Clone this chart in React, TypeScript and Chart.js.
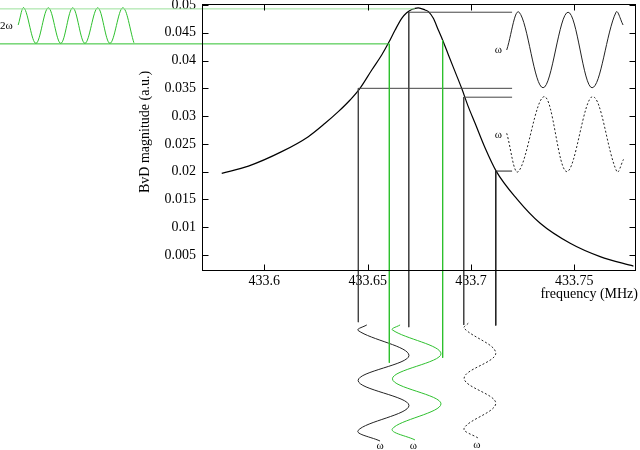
import { useEffect, useRef } from 'react';
import { Chart, registerables } from 'chart.js';

Chart.register(...registerables);

const FONT = '"Liberation Serif", "Times New Roman", serif';

// Axis ranges and ticks
const xTicks = [433.6, 433.65, 433.7, 433.75];
const yTicks = [0.005, 0.01, 0.015, 0.02, 0.025, 0.03, 0.035, 0.04, 0.045, 0.05];
const xMin = 433.56985;
const xMax = 433.77986;
const yMin = 0.00211;
const yMax = 0.05018;

// Resonance curve (frequency MHz, BvD magnitude)
const curveFreq = [
  433.5794, 433.5923, 433.6084, 433.6213, 433.6294, 433.6358, 433.6415, 433.6463,
  433.652, 433.6568, 433.66, 433.6633, 433.6665, 433.6689, 433.6713, 433.6745,
  433.6778, 433.6794, 433.6818, 433.6842, 433.6866, 433.6891, 433.6923, 433.6955,
  433.6987, 433.702, 433.7068, 433.7122, 433.7222, 433.7335, 433.748, 433.7625,
  433.7786,
];
const curveMag = [
  0.0197, 0.021, 0.0236, 0.0263, 0.0287, 0.0308, 0.0329, 0.035,
  0.0383, 0.041, 0.0431, 0.0455, 0.0476, 0.0486, 0.0492, 0.0495,
  0.0491, 0.0488, 0.0476, 0.0455, 0.0434, 0.041, 0.038, 0.035,
  0.0317, 0.0287, 0.0243, 0.0201, 0.0151, 0.0107, 0.0071, 0.0047,
  0.003,
];

// Black guide lines (L-shaped: from right end, along level, down below axis)
const guideBlack1 = [
  { x: 433.7199, y: 0.035 }, { x: 433.6455, y: 0.035 }, { x: 433.6455, y: -0.0071 },
];
const guideBlack2 = [
  { x: 433.7199, y: 0.0487 }, { x: 433.6699, y: 0.0487 }, { x: 433.6699, y: -0.008 },
];
const guideBlack3 = [
  { x: 433.7199, y: 0.0334 }, { x: 433.6965, y: 0.0334 }, { x: 433.6965, y: -0.0076 },
];
const guideBlack4 = [
  { x: 433.7199, y: 0.0201 }, { x: 433.712, y: 0.0201 }, { x: 433.712, y: -0.0077 },
];

// Green guide lines
const guideGreenTop = [{ x: 433.4721, y: 0.0493 }, { x: 433.6729, y: 0.0493 }];
const guideGreenLeft = [
  { x: 433.4721, y: 0.043 }, { x: 433.6605, y: 0.043 }, { x: 433.6605, y: -0.0144 },
];
const guideGreenRight = [{ x: 433.6863, y: 0.0437 }, { x: 433.6863, y: -0.0135 }];

// Waveforms (extrema)
const wave2w = [
  { x: 433.4809, y: 0.0464 }, { x: 433.4837, y: 0.0495 }, { x: 433.4895, y: 0.0431 },
  { x: 433.4955, y: 0.0495 }, { x: 433.5015, y: 0.0431 }, { x: 433.5073, y: 0.0495 },
  { x: 433.5132, y: 0.0431 }, { x: 433.5194, y: 0.0495 }, { x: 433.5253, y: 0.0431 },
  { x: 433.5315, y: 0.0495 }, { x: 433.5369, y: 0.0432 },
];
const waveRightSolid = [
  { x: 433.7173, y: 0.0419 }, { x: 433.7233, y: 0.0487 }, { x: 433.7349, y: 0.0351 },
  { x: 433.747, y: 0.0487 }, { x: 433.7586, y: 0.0351 }, { x: 433.7702, y: 0.0487 },
  { x: 433.7736, y: 0.0464 },
];
const waveRightDotted = [
  { x: 433.7173, y: 0.0269 }, { x: 433.7229, y: 0.02 }, { x: 433.7355, y: 0.0335 },
  { x: 433.7464, y: 0.02 }, { x: 433.7589, y: 0.0335 }, { x: 433.7706, y: 0.02 },
  { x: 433.7738, y: 0.0222 },
];
const waveBottomBlack = [
  { x: 433.6496, y: -0.0076 }, { x: 433.6454, y: -0.0086 }, { x: 433.67, y: -0.0131 },
  { x: 433.6454, y: -0.0176 }, { x: 433.67, y: -0.0221 }, { x: 433.6454, y: -0.0266 },
  { x: 433.656, y: -0.0285 },
];
const waveBottomGreen = [
  { x: 433.6657, y: -0.0076 }, { x: 433.662, y: -0.0085 }, { x: 433.6855, y: -0.0128 },
  { x: 433.662, y: -0.0173 }, { x: 433.6855, y: -0.0218 }, { x: 433.662, y: -0.0263 },
  { x: 433.6729, y: -0.0283 },
];
const waveBottomDotted = [
  { x: 433.6987, y: -0.0073 }, { x: 433.6967, y: -0.0082 }, { x: 433.712, y: -0.0127 },
  { x: 433.6967, y: -0.0172 }, { x: 433.712, y: -0.0217 }, { x: 433.6967, y: -0.0262 },
  { x: 433.7036, y: -0.028 },
];

// Text labels placed in data coordinates
const waveLabels = [
  { text: '2ω', x: 433.4752, y: 0.0462 },
  { text: 'ω', x: 433.7133, y: 0.0419 },
  { text: 'ω', x: 433.7133, y: 0.0266 },
  { text: 'ω', x: 433.656, y: -0.0294 },
  { text: 'ω', x: 433.6721, y: -0.0295 },
  { text: 'ω', x: 433.7028, y: -0.0292 },
];

const GREEN = '#2ec02e';
const LIGHT_GREEN = '#9be09b';

const lineDs = (data: any[], color: string, width = 1, extra: any = {}) => ({
  data,
  showLine: true,
  borderColor: color,
  borderWidth: width,
  pointRadius: 0,
  tension: 0,
  clip: false,
  capBezierPoints: false,
  ...extra,
});

const waveDs = (data: any[], color: string, extra: any = {}) =>
  lineDs(data, color, 1, { tension: 0.36, ...extra });

const decor = {
  id: 'decor',
  afterDraw(chart: any) {
    const { ctx, chartArea: a, scales } = chart;
    const xs = scales.x;
    const ys = scales.y;
    ctx.save();
    ctx.strokeStyle = '#000';
    ctx.lineWidth = 1;
    const L = Math.round(a.left) + 0.5;
    const R = Math.round(a.right) - 0.5;
    const T = Math.round(a.top) + 0.5;
    const B = Math.round(a.bottom) - 0.5;
    ctx.strokeRect(L, T, R - L, B - T);
    ctx.beginPath();
    const tl = 6;
    xTicks.forEach((v) => {
      const px = Math.round(xs.getPixelForValue(v)) + 0.5;
      ctx.moveTo(px, B);
      ctx.lineTo(px, B - tl);
      ctx.moveTo(px, T);
      ctx.lineTo(px, T + tl);
    });
    yTicks.forEach((v) => {
      const py = Math.round(ys.getPixelForValue(v)) + 0.5;
      ctx.moveTo(L, py);
      ctx.lineTo(L + tl, py);
      ctx.moveTo(R, py);
      ctx.lineTo(R - tl, py);
    });
    ctx.stroke();

    ctx.fillStyle = '#000';
    ctx.font = `14px ${FONT}`;
    ctx.textBaseline = 'middle';
    ctx.textAlign = 'right';
    ctx.fillText('frequency (MHz)', 638, 294);

    ctx.save();
    ctx.translate(145, 132);
    ctx.rotate(-Math.PI / 2);
    ctx.textAlign = 'center';
    ctx.fillText('BvD magnitude (a.u.)', 0, 0);
    ctx.restore();

    ctx.font = `11px ${FONT}`;
    ctx.textAlign = 'center';
    waveLabels.forEach((l) => {
      ctx.fillText(l.text, xs.getPixelForValue(l.x), ys.getPixelForValue(l.y));
    });
    ctx.restore();
  },
};

export default function App() {
  const ref = useRef<HTMLCanvasElement>(null);
  useEffect(() => {
    const datasets: any[] = [
      lineDs(guideGreenTop, LIGHT_GREEN),
      lineDs(guideGreenLeft, GREEN),
      lineDs(guideGreenRight, GREEN),
      lineDs(guideBlack1, '#444'),
      lineDs(guideBlack2, '#444'),
      lineDs(guideBlack3, '#444'),
      lineDs(guideBlack4, '#222'),
      waveDs(wave2w, GREEN, { indexAxis: 'y' }),
      waveDs(waveRightSolid, '#222'),
      waveDs(waveRightDotted, '#222', { borderDash: [2, 2] }),
      waveDs(waveBottomBlack, '#222'),
      waveDs(waveBottomGreen, GREEN),
      waveDs(waveBottomDotted, '#222', { borderDash: [2, 2] }),
      lineDs(
        curveFreq.map((f, i) => ({ x: f, y: curveMag[i] })),
        '#000',
        1.2,
        { cubicInterpolationMode: 'monotone' }
      ),
    ];
    const tickFont = { family: FONT, size: 14 };
    const chart = new Chart(ref.current as HTMLCanvasElement, {
      type: 'scatter',
      data: { datasets },
      options: {
        responsive: false,
        animation: false,
        events: [],
        layout: { padding: { left: 0, top: 4, right: 4, bottom: 0 } },
        plugins: { legend: { display: false }, tooltip: { enabled: false } },
        scales: {
          x: {
            type: 'linear',
            position: 'bottom',
            min: xMin,
            max: xMax,
            grid: { display: false, drawTicks: false },
            border: { display: false },
            ticks: {
              font: tickFont,
              color: '#000',
              padding: 2,
              maxRotation: 0,
              autoSkip: false,
              callback: (v: any) => String(v),
            },
            afterBuildTicks: (s: any) => {
              s.ticks = xTicks.map((v) => ({ value: v }));
            },
            afterFit: (s: any) => {
              s.height = 179;
              s.paddingLeft = 0;
              s.paddingRight = 0;
              s.paddingTop = 0;
              s.paddingBottom = 0;
            },
          },
          y: {
            type: 'linear',
            position: 'left',
            min: yMin,
            max: yMax,
            grid: { display: false, drawTicks: false },
            border: { display: false },
            ticks: {
              font: tickFont,
              color: '#000',
              padding: 6,
              autoSkip: false,
              callback: (v: any) => String(v),
            },
            afterBuildTicks: (s: any) => {
              s.ticks = yTicks.map((v) => ({ value: v }));
            },
            afterFit: (s: any) => {
              s.width = 202;
              s.paddingLeft = 0;
              s.paddingRight = 0;
              s.paddingTop = 0;
              s.paddingBottom = 0;
            },
          },
        },
      } as any,
      plugins: [decor],
    });
    return () => chart.destroy();
  }, []);
  return (
    <div style={{ position: 'absolute', left: 0, top: 0, width: 640, height: 450, background: '#fff' }}>
      <canvas ref={ref} width={640} height={450} style={{ display: 'block' }} />
    </div>
  );
}
